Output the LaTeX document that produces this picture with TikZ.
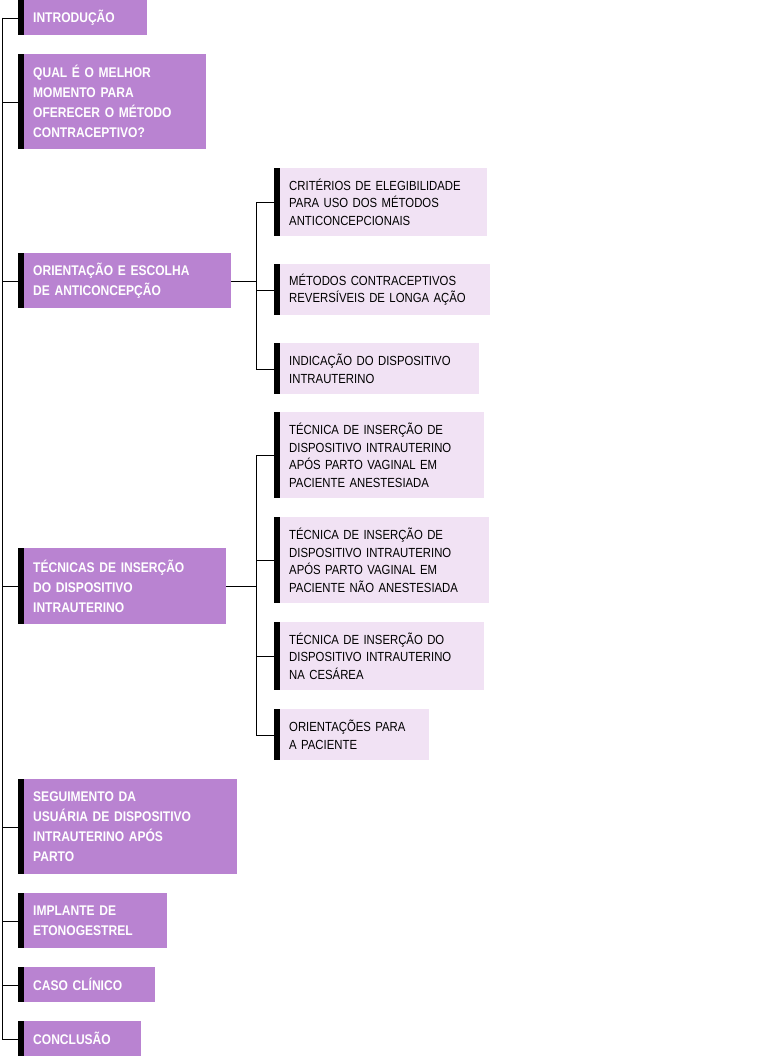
\documentclass[tikz,border=0pt]{standalone}
\usepackage{fontspec}
\setmainfont{Liberation Sans}[FakeStretch=0.86]
\usetikzlibrary{positioning}
\definecolor{roxo}{HTML}{B983D1}
\definecolor{rosa}{HTML}{F1E2F4}
\tikzset{
  barra/.style={path picture={\fill[black] (path picture bounding box.south west) rectangle ([xshift=6pt]path picture bounding box.north west);}},
  mainbox/.style={barra, fill=roxo, text=white, anchor=north west, align=left, inner sep=0pt,
    font=\bfseries\fontsize{14}{20}\selectfont},
  subbox/.style={barra, fill=rosa, text=black, anchor=north west, align=left, inner sep=0pt,
    font=\fontsize{13.2}{17.6}\selectfont},
  liga/.style={draw=black, thin}
}
\begin{document}
\begin{tikzpicture}[x=1pt, y=-1pt]
  \useasboundingbox (0,0) rectangle (768,1058);

  % blocos principais
  \node[mainbox, minimum width=129, minimum height=35, text width=99] (intro) at (18,0) {INTRODUÇÃO};
  \node[mainbox, minimum width=188, minimum height=95, text width=158] (qual) at (18,54) {QUAL É O MELHOR\\MOMENTO PARA\\OFERECER O MÉTODO\\CONTRACEPTIVO?};
  \node[mainbox, minimum width=213, minimum height=55, text width=183] (orient) at (18,253) {ORIENTAÇÃO E ESCOLHA\\DE ANTICONCEPÇÃO};
  \node[mainbox, minimum width=208, minimum height=76, text width=178] (tecn) at (18,548) {TÉCNICAS DE INSERÇÃO\\DO DISPOSITIVO\\INTRAUTERINO};
  \node[mainbox, minimum width=219, minimum height=95, text width=189] (segue) at (18,779) {SEGUIMENTO DA\\USUÁRIA DE DISPOSITIVO\\INTRAUTERINO APÓS\\PARTO};
  \node[mainbox, minimum width=149, minimum height=55, text width=119] (impl) at (18,893) {IMPLANTE DE\\ETONOGESTREL};
  \node[mainbox, minimum width=137, minimum height=35, text width=107] (caso) at (18,967) {CASO CLÍNICO};
  \node[mainbox, minimum width=123, minimum height=35, text width=93] (concl) at (18,1021) {CONCLUSÃO};

  % tronco
  \draw[liga] ([xshift=-16pt]intro.west) -- ([xshift=-16pt]concl.west);
  \foreach \n in {intro,qual,orient,tecn,segue,impl,caso,concl}
    \draw[liga] (\n.west) -- ++(-16,0);

  % subitens de orientacao
  \node[subbox, minimum width=213, minimum height=68, text width=183] (crit) at (274,168) {CRITÉRIOS DE ELEGIBILIDADE\\PARA USO DOS MÉTODOS\\ANTICONCEPCIONAIS};
  \node[subbox, minimum width=216, minimum height=51, text width=186] (larc) at (274,264) {MÉTODOS CONTRACEPTIVOS\\REVERSÍVEIS DE LONGA AÇÃO};
  \node[subbox, minimum width=205, minimum height=51, text width=175] (indic) at (274,343) {INDICAÇÃO DO DISPOSITIVO\\INTRAUTERINO};

  \coordinate (ob) at ([xshift=25pt]orient.east);
  \draw[liga] (orient.east) -- (ob);
  \foreach \c in {crit,larc,indic}
    \draw[liga] (\c.west) -| (ob);

  % subitens de tecnicas
  \node[subbox, minimum width=210, minimum height=86, text width=180] (vagan) at (274,412) {TÉCNICA DE INSERÇÃO DE\\DISPOSITIVO INTRAUTERINO\\APÓS PARTO VAGINAL EM\\PACIENTE ANESTESIADA};
  \node[subbox, minimum width=215, minimum height=86, text width=185] (vagnao) at (274,517) {TÉCNICA DE INSERÇÃO DE\\DISPOSITIVO INTRAUTERINO\\APÓS PARTO VAGINAL EM\\PACIENTE NÃO ANESTESIADA};
  \node[subbox, minimum width=210, minimum height=68, text width=180] (cesar) at (274,622) {TÉCNICA DE INSERÇÃO DO\\DISPOSITIVO INTRAUTERINO\\NA CESÁREA};
  \node[subbox, minimum width=155, minimum height=51, text width=125] (pac) at (274,709) {ORIENTAÇÕES PARA\\A PACIENTE};

  \coordinate (tb) at ([xshift=30pt]tecn.east);
  \draw[liga] (tecn.east) -- (tb);
  \foreach \c in {vagan,vagnao,cesar,pac}
    \draw[liga] (\c.west) -| (tb);
\end{tikzpicture}
\end{document}
